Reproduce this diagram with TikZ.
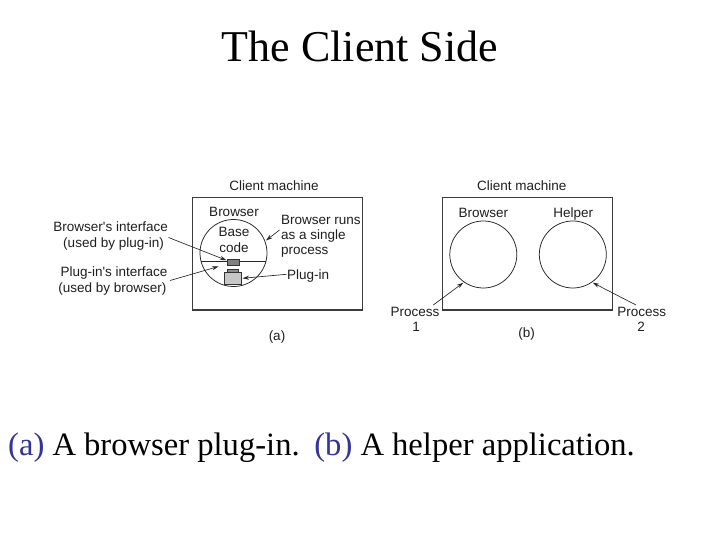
\documentclass[tikz,border=0pt]{standalone}
\usepackage{fontspec}
\setmainfont{Liberation Serif}
\newfontfamily\labfont{Liberation Sans}
\usetikzlibrary{arrows.meta}
\definecolor{capblue}{RGB}{51,51,153}
\definecolor{linegray}{RGB}{60,60,60}
\tikzset{
  lab/.style={font=\labfont\fontsize{13.5}{15}\selectfont, text=black!88, inner sep=0pt, text height=9.9pt, text depth=0.4pt},
  box/.style={draw=linegray, line width=1.2pt},
  proc/.style={circle, draw=black!85, line width=0.75pt, minimum size=67pt, inner sep=0pt},
  arr/.style={draw=black!85, line width=0.65pt, -{Stealth[length=6.5pt,width=4pt]}},
  part/.style={draw=black!80, line width=0.5pt},
}
\begin{document}
\begin{tikzpicture}[x=1pt,y=-1pt]
\useasboundingbox[fill=white] (0,0) rectangle (720,540);

% title
\node[font=\fontsize{44}{50}\selectfont, anchor=base, inner sep=0pt] (title) at (360,62) {The Client Side};

% ---------- (a) ----------
\draw[box] (192.5,197.3) rectangle (362.3,310);
\node[lab] (cma) at (274,186) {Client machine};
\node[proc] (ca) at (233.5,253) {};
\draw[black!85, line width=0.65pt] (201.1,261.7) -- (265.9,261.7);
\node[lab] (bra) at (234,211.7) {Browser};
\node[lab] (base) at (234,231.7) {Base};
\node[lab] (code) at (234,247.5) {code};
\filldraw[part, fill=black!50] (226.8,258.8) rectangle (239.3,264.8);
\filldraw[part, fill=black!45] (227.7,269) rectangle (238.3,272.3);
\filldraw[part, fill=black!22] (224.3,272.3) rectangle (241.7,284);

\node[lab, anchor=east] (bi1) at (168,226.7) {Browser's interface};
\node[lab, anchor=east] (bi2) at (164,242.3) {(used by plug-in)};
\node[lab, anchor=east] (pi1) at (167.7,271.7) {Plug-in's interface};
\node[lab, anchor=east] (pi2) at (166.7,287.3) {(used by browser)};
\node[lab, anchor=west] (br1) at (281,220) {Browser runs};
\node[lab, anchor=west] (br2) at (281,234.8) {as a single};
\node[lab, anchor=west] (br3) at (281,250) {process};
\node[lab, anchor=west] (pl) at (287,274.3) {Plug-in};
\node[lab] (la) at (277,335.5) {(a)};

\coordinate (s1) at (168.5,237.5);
\coordinate (t1) at (226.5,260.3);
\coordinate (s2) at (170,280.5);
\coordinate (t2) at (218.5,266.5);
\coordinate (s3) at (279.5,230);
\coordinate (t3) at (266,240.5);
\coordinate (s4) at (286.5,274.3);
\coordinate (t4) at (242.5,278.3);
\draw[arr] (s1) -- (t1);
\draw[arr] (s2) -- (t2);
\draw[arr] (s3) -- (t3);
\draw[arr] (s4) -- (t4);

% ---------- (b) ----------
\draw[box] (442.7,197.3) rectangle (612.3,310);
\node[lab] (cmb) at (521.7,186) {Client machine};
\node[proc] (cb1) at (483.3,254.5) {};
\node[proc] (cb2) at (572.8,254.5) {};
\node[lab] (brb) at (483.3,212.3) {Browser};
\node[lab] (hlp) at (573.3,212.3) {Helper};
\node[lab] (p1a) at (415,311.7) {Process};
\node[lab] (p1b) at (416,326.7) {1};
\node[lab] (p2a) at (641.7,311.7) {Process};
\node[lab] (p2b) at (641,326.7) {2};
\node[lab] (lb) at (526.7,333) {(b)};
\coordinate (s5) at (433.3,305);
\coordinate (t5) at (463.3,282.7);
\coordinate (s6) at (636,305);
\coordinate (t6) at (592.7,282.7);
\draw[arr] (s5) -- (t5);
\draw[arr] (s6) -- (t6);

% caption
\node[font=\fontsize{32.6}{38}\selectfont, anchor=base west, inner sep=0pt] (cap) at (8,455)
  {\textcolor{capblue}{(a)} A browser plug-in.\hspace{0.45em}\textcolor{capblue}{(b)} A helper application.};
\end{tikzpicture}
\end{document}
